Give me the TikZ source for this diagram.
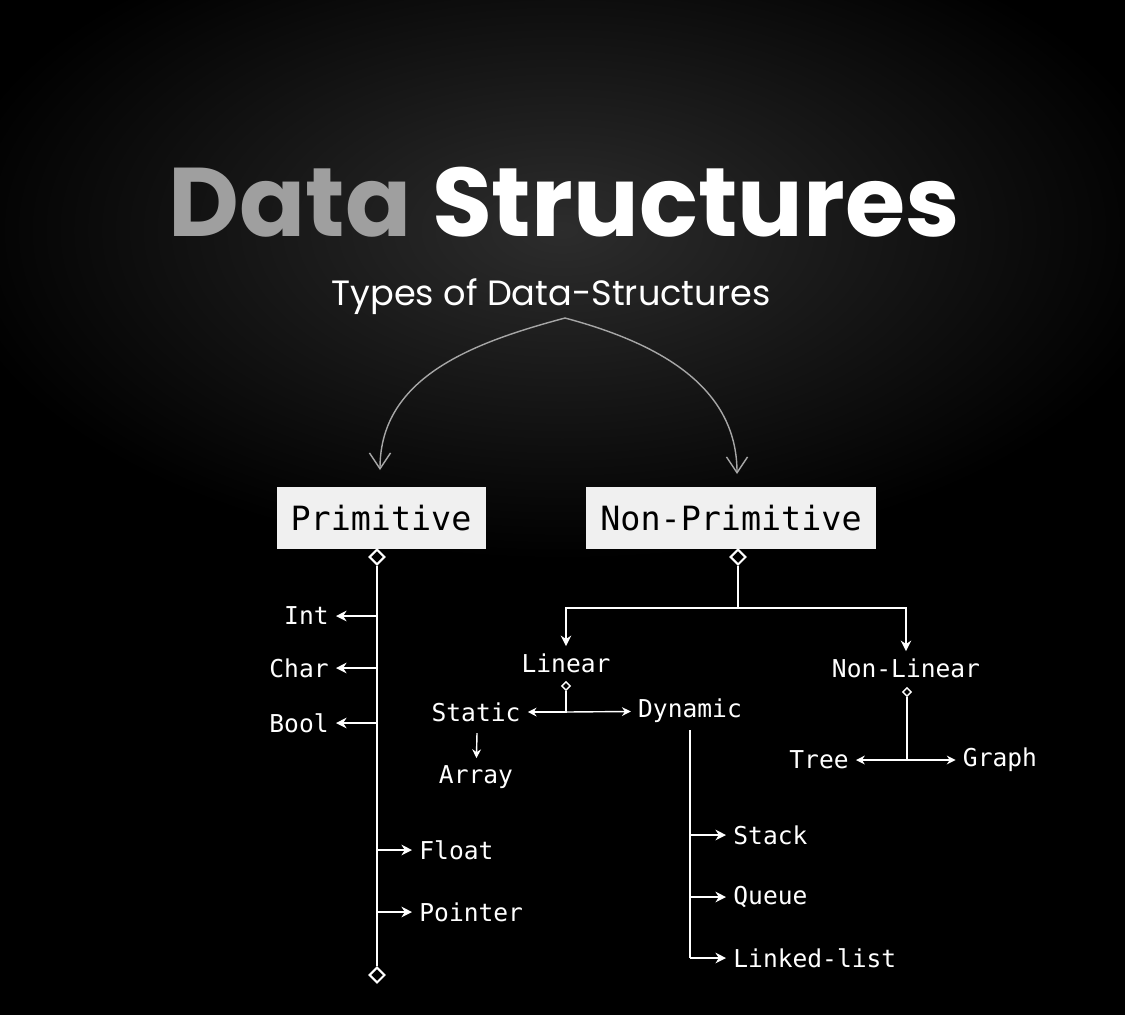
\documentclass[tikz,border=0pt]{standalone}
\usepackage{fontspec}
\setmainfont{Poppins}
\newfontfamily\codefont{DejaVu Sans Mono}
\usetikzlibrary{arrows.meta, positioning, shapes.geometric}

\begin{document}
\begin{tikzpicture}[x=0.02cm, y=-0.02cm,
          every node/.style = {text = white},
          lbl/.style = {font = \codefont\fontsize{14}{16}\selectfont, inner sep = 4pt},
          catbox/.style = {fill = gray!12, text = black, minimum height = 1.24cm,
              font = \codefont\fontsize{19}{22}\selectfont, inner xsep = 8pt},
          joint/.style = {diamond, draw = white, fill = black, line width = 1.2pt,
              inner sep = 0pt, minimum size = 9pt},
          smalljoint/.style = {joint, minimum size = 5pt, line width = 0.8pt},
          link/.style = {draw = white, line width = 1.6pt},
          tip/.style = {link, -{Stealth[length = 6pt, width = 6pt]}},
          thin tip/.style = {draw = white, line width = 0.8pt, -{Stealth[length = 5pt, width = 5pt]}},
          curve/.style = {draw = gray!70, line width = 0.8pt, -{Straight Barb[length = 9pt, width = 12pt]}}
          ]

          % Background
          \useasboundingbox (0,0) rectangle (1125,1015);
          \clip (0,0) rectangle (1125,1015);
          \fill[black] (0,0) rectangle (1125,1015);
          \fill[inner color = gray!35!black, outer color = black] (562,230) ellipse [x radius = 620, y radius = 330];

          % Titles
          \node (title) at (564,202) {\fontsize{55.5}{62}\selectfont\bfseries \textcolor{gray!75}{Data} Structures};
          \node (types) at (551,297) {\fontsize{20}{24}\selectfont Types of Data-Structures};
          \coordinate (split) at (565,318);

          % Categories
          \node (prim) [catbox] at (381,518) {Primitive};
          \node (nonprim) [catbox] at (731,518) {Non-Primitive};

          \draw[curve] (split) to[out=195, in=90] (380,470);
          \draw[curve] (split) to[out=-15, in=90] (737,474);

          % Primitive branch
          \node (pj) [joint] at (377,557) {};
          \node (pend) [joint] at (377,975) {};
          \draw[link] (pj) -- (pend);
          \node (int) [lbl, anchor = east] at (336,616) {Int};
          \node (char) [lbl, anchor = east] at (336,668) {Char};
          \node (bool) [lbl, anchor = east] at (336,723) {Bool};
          \node (float) [lbl, anchor = west] at (412,850) {Float};
          \node (ptr) [lbl, anchor = west] at (412,912) {Pointer};
          \draw[tip] (377,616) -- (int);
          \draw[tip] (377,668) -- (char);
          \draw[tip] (377,723) -- (bool);
          \draw[tip] (377,850) -- (float);
          \draw[tip] (377,912) -- (ptr);

          % Non-primitive branch
          \node (nj) [joint] at (738,557) {};
          \node (linear) [lbl] at (566,663) {Linear};
          \node (nonlin) [lbl] at (906,668) {Non-Linear};
          \coordinate (nsplit) at (738,608);
          \draw[link] (nj) -- (nsplit);
          \draw[tip] (nsplit) -| (linear);
          \draw[tip] (nsplit) -| (nonlin);

          % Linear
          \node (lj) [smalljoint] at (566,686) {};
          \coordinate (lsplit) at (566,712);
          \node (static) [lbl] at (476,712) {Static};
          \node (dynamic) [lbl] at (690,711) {Dynamic};
          \node (array) [lbl] at (476,777) {Array};
          \draw[thin tip] (lj) -- (lsplit) -- (static);
          \draw[thin tip] (lsplit) -- (dynamic);
          \draw[thin tip] (477,733) -- (array);

          % Dynamic
          \coordinate (dtop) at (690,730);
          \coordinate (dbot) at (690,958);
          \node (stack) [lbl, anchor = west] at (726,835) {Stack};
          \node (queue) [lbl, anchor = west] at (726,897) {Queue};
          \node (llist) [lbl, anchor = west] at (726,958) {Linked-list};
          \draw[link] (dtop) -- (dbot);
          \draw[tip] (690,835) -- (stack);
          \draw[tip] (690,897) -- (queue);
          \draw[tip] (dbot) -- (llist);

          % Non-linear
          \node (nlj) [smalljoint] at (907,692) {};
          \coordinate (nlsplit) at (907,760);
          \node (tree) [lbl] at (819,760) {Tree};
          \node (graph) [lbl] at (1000,760) {Graph};
          \draw[thin tip] (nlj) -- (nlsplit) -- (tree);
          \draw[thin tip] (nlsplit) -- (graph);

        \end{tikzpicture}
\end{document}
